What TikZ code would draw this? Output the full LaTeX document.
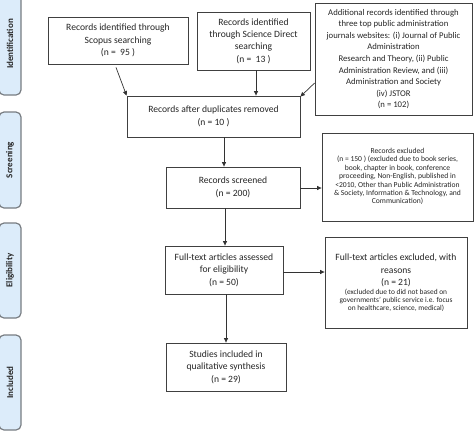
\documentclass[tikz,border=0pt]{standalone}
\usepackage{fontspec}
\setmainfont{Carlito}
\usetikzlibrary{arrows.meta}
\definecolor{phasefill}{RGB}{220,236,250}
\definecolor{phasedraw}{RGB}{120,125,130}
\begin{document}
\begin{tikzpicture}[x=1pt,y=-1pt,
  box/.style={draw=black!75, line width=0.8pt, fill=white, align=center, inner sep=1pt,
    font=\fontsize{9.6}{12.4}\selectfont, text=black!85},
  smallbox/.style={box, font=\fontsize{8.7}{11.6}\selectfont},
  tinybox/.style={box, font=\fontsize{7.6}{8.4}\selectfont},
  phase/.style={draw=phasedraw, line width=1.2pt, fill=phasefill, rounded corners=5pt,
    rotate=90, inner sep=0pt, font=\fontsize{9}{10}\selectfont\bfseries, text=black!85},
  arr/.style={-{Triangle[length=4.5pt,width=4pt]}, line width=0.7pt, draw=black!80}]
\useasboundingbox (0,0) rectangle (474,432);

% phase bars
\node[phase, minimum width=102pt, minimum height=22pt] (pid) at (10,44) {Identification};
\node[phase, minimum width=96pt, minimum height=22pt] (pscr) at (10,160) {Screening};
\node[phase, minimum width=95pt, minimum height=22pt] (pel) at (10,270.5) {Eligibility};
\node[phase, minimum width=95pt, minimum height=22pt] (pinc) at (10,382.5) {Included};

% boxes
\node[box, minimum width=140pt, minimum height=47pt] (scopus) at (118,40.5)
  {Records identified through\\Scopus searching\\(n = \ 95 )};
\node[box, minimum width=113pt, minimum height=58pt] (sd) at (253.5,41)
  {Records identified\\through Science Direct\\searching\\(n = \ 13 )};
\node[smallbox, minimum width=157pt, minimum height=112pt] (add) at (393.5,59)
  {Additional records identified through\\three top public administration\\journals websites: (i) Journal of Public\\Administration\\Research and Theory, (ii) Public\\Administration Review, and (iii)\\Administration and Society\\(iv) JSTOR\\(n = 102)};
\node[box, minimum width=173pt, minimum height=41pt] (dup) at (213.5,116.5)
  {Records after duplicates removed\\(n = 10 )};
\node[box, minimum width=134pt, minimum height=41pt] (scr) at (233,187.5)
  {Records screened\\(n = 200)};
\node[tinybox, minimum width=151pt, minimum height=88pt] (rexc) at (397.5,177)
  {\raisebox{4pt}{\begin{tabular}{@{}c@{}}Records excluded\\(n = 150 ) (excluded due to book series,\\book, chapter in book, conference\\proceeding, Non-English, published in\\<2010, Other than Public Administration\\\& Society, Information \& Technology, and\\Communication)\end{tabular}}};
\node[box, minimum width=118pt, minimum height=48pt] (ft) at (224,270)
  {Full-text articles assessed\\for eligibility\\(n = 50)};
\node[box, minimum width=142pt, minimum height=91pt] (ftx) at (396,282.5)
  {\raisebox{5pt}{\begin{tabular}{@{}c@{}}Full-text articles excluded, with\\reasons\\(n = 21)\\[-1pt]
   {\fontsize{7.4}{8.1}\selectfont\begin{tabular}{@{}c@{}}(excluded due to did not based on\\governments' public service i.e. focus\\on healthcare, science, medical)\end{tabular}}\end{tabular}}};
\node[box, minimum width=120pt, minimum height=48pt] (inc) at (226,367)
  {Studies included in\\qualitative synthesis\\(n = 29)};

% connectors
\draw[arr] ([xshift=-2pt,yshift=-3pt]scopus.south) -- (dup.north west);
\draw[arr] (sd.south -| 256,0) -- (dup.north -| 256,0);
\draw[arr] (add.west |- 0,83) -- ([yshift=-1pt]dup.north east);
\draw[arr] (dup.south -| 224,0) -- (scr.north -| 224,0);
\draw[arr] (scr.east |- 0,188) -- (rexc.west |- 0,188);
\draw[arr] (scr.south -| 225,0) -- (ft.north -| 225,0);
\draw[arr] (ft.east |- 0,272) -- (ftx.west |- 0,272);
\draw[arr] (ft.south -| 226,0) -- (inc.north -| 226,0);
\end{tikzpicture}
\end{document}
